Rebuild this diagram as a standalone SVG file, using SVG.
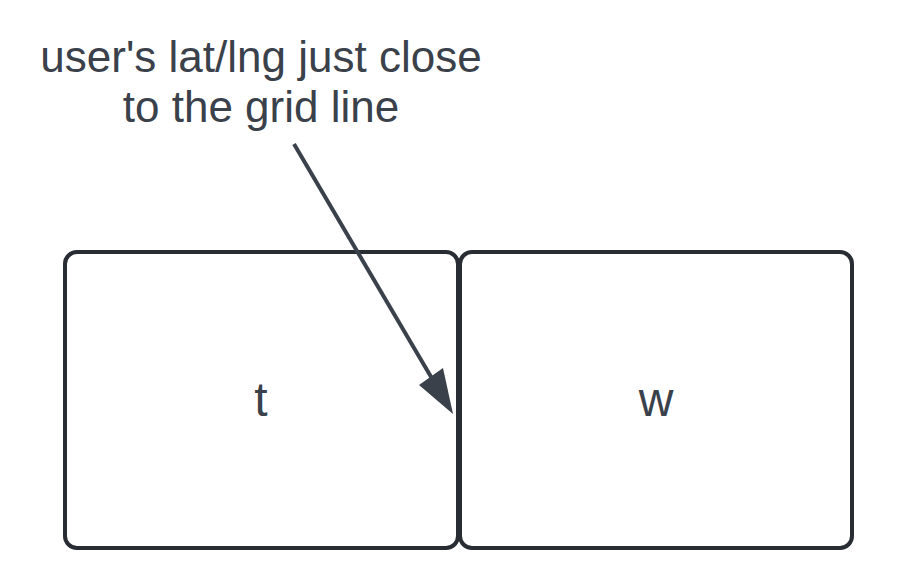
<svg xmlns="http://www.w3.org/2000/svg" width="902" height="582" viewBox="0 0 902 582">
<style>
.box{fill:#fff;stroke:#282c33;stroke-width:4}
text{font-family:"Liberation Sans",Arial,sans-serif;fill:#3a414a;text-anchor:middle}
</style>
<rect width="902" height="582" fill="#fff"/>
<g id="node-t"><rect class="box" x="65" y="252" width="393" height="296" rx="12"/><text x="261" y="416" font-size="48">t</text></g>
<g id="node-w"><rect class="box" x="460" y="252" width="392" height="296" rx="12"/><text x="656" y="416" font-size="48">w</text></g>
<g id="label"><text x="261" y="72" font-size="44">user's lat/lng just close</text><text x="261" y="122" font-size="44">to the grid line</text></g>
<g id="connectors">
<line x1="294" y1="144" x2="437" y2="387" stroke="#3a414a" stroke-width="4"/>
<polygon points="453,414 419,385 443,368" fill="#3a414a"/>
</g>
</svg>
